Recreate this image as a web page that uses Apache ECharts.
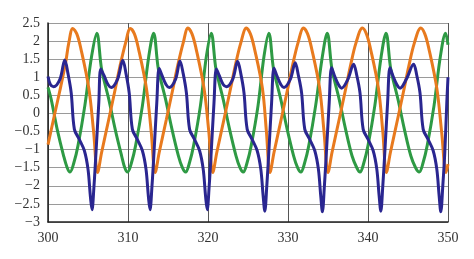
<!DOCTYPE html>
<html><head><meta charset="utf-8">
<script src="https://cdn.jsdelivr.net/npm/echarts@6/dist/echarts.min.js"></script>
<style>html,body{margin:0;padding:0;background:#fff}#c{width:474px;height:259px}</style>
</head><body><div id="c"></div>
<script>
const xTicks = [300, 310, 320, 330, 340, 350];
const yTicks = [-3, -2.5, -2, -1.5, -1, -0.5, 0, 0.5, 1, 1.5, 2, 2.5];

const blueX = [300.0,300.3,300.7,301.5,
302.1,302.5,302.9,303.3,303.9,304.55,305.0,305.3,305.5,305.75,306.0,306.35,306.6,307.0,307.5,307.9,308.7,
309.35,309.75,310.15,310.55,311.15,311.8,312.25,312.55,312.75,313.0,313.25,313.6,313.9,314.25,314.75,315.15,315.95,
316.5,316.9,317.3,317.7,318.3,318.95,319.4,319.7,319.9,320.15,320.4,320.75,321.05,321.4,321.9,322.3,323.1,
323.7,324.1,324.5,324.9,325.5,326.15,326.6,326.9,327.1,327.35,327.6,327.95,328.25,328.6,329.1,329.5,330.3,
330.9,331.3,331.7,332.1,332.7,333.35,333.8,334.1,334.3,334.55,334.8,335.15,335.45,335.8,336.3,336.7,337.5,
338.2,338.6,339.0,339.4,340.0,340.65,341.1,341.4,341.6,341.85,342.1,342.45,342.75,343.1,343.6,344.0,344.8,
345.7,346.1,346.5,346.9,347.5,348.15,348.6,348.9,349.1,349.35,349.6,349.85,350.0];
const blueY = [1.02,0.8,0.74,0.95,
1.48,1.1,0.57,-0.44,-0.71,-1.03,-1.54,-2.3,-2.66,-2.0,-1.08,0.3,1.23,1.05,0.8,0.72,0.95,
1.47,1.1,0.57,-0.44,-0.71,-1.03,-1.54,-2.3,-2.66,-2.0,-1.08,0.3,1.24,1.05,0.8,0.72,0.95,
1.45,1.1,0.57,-0.44,-0.71,-1.03,-1.54,-2.3,-2.66,-2.0,-1.08,0.3,1.23,1.05,0.8,0.74,0.95,
1.44,1.1,0.57,-0.44,-0.71,-1.03,-1.54,-2.3,-2.7,-2.0,-1.08,0.3,1.25,1.05,0.8,0.72,0.95,
1.4,1.05,0.57,-0.44,-0.71,-1.03,-1.54,-2.3,-2.72,-2.0,-1.08,0.3,1.26,1.05,0.8,0.7,0.95,
1.36,1.05,0.57,-0.44,-0.71,-1.03,-1.54,-2.3,-2.7,-2.0,-1.08,0.3,1.26,1.05,0.8,0.7,0.95,
1.36,1.05,0.57,-0.44,-0.71,-1.03,-1.54,-2.3,-2.72,-2.0,-1.08,0.3,1.0];

const orangeX = [300.0,300.8,301.6,302.2,302.6,
303.1,303.6,304.1,305.1,305.7,306.2,306.7,307.6,308.4,309.0,309.7,
310.3,310.8,311.3,312.3,312.9,313.4,313.9,314.8,315.6,316.2,316.9,
317.5,318.0,318.5,319.5,320.1,320.6,321.1,322.0,322.8,323.4,324.1,
324.8,325.3,325.8,326.8,327.3,327.75,328.25,329.15,329.95,330.55,331.25,
331.95,332.45,332.95,333.95,334.5,335.0,335.5,336.4,337.2,337.8,338.5,
339.3,339.8,340.3,341.3,341.85,342.3,342.8,343.7,344.5,345.1,345.8,
346.6,347.1,347.6,348.6,349.2,349.75,350.0];
const orangeY = [-0.86,-0.05,0.75,1.4,1.95,
2.35,2.2,1.8,0.7,-0.5,-1.63,-1.08,-0.16,0.67,1.31,1.95,
2.35,2.2,1.8,0.7,-0.5,-1.63,-1.08,-0.16,0.67,1.31,1.95,
2.36,2.2,1.8,0.7,-0.5,-1.63,-1.08,-0.16,0.67,1.31,1.95,
2.36,2.2,1.8,0.7,-0.5,-1.63,-1.08,-0.16,0.67,1.31,1.95,
2.36,2.2,1.8,0.7,-0.5,-1.63,-1.08,-0.16,0.67,1.31,1.95,
2.36,2.2,1.8,0.7,-0.5,-1.63,-1.08,-0.16,0.67,1.31,1.95,
2.36,2.2,1.8,0.7,-0.5,-1.63,-1.4];

const greenX = [300.0,300.4,301.15,301.95,302.4,
302.75,303.25,303.75,304.6,305.45,306.1,306.7,307.6,308.4,309.2,309.6,
309.95,310.45,310.95,311.8,312.6,313.2,313.8,314.7,315.5,316.3,316.8,
317.2,317.7,318.2,319.05,319.8,320.4,321.0,321.9,322.7,323.5,324.0,
324.4,324.9,325.4,326.25,327.0,327.6,328.2,329.1,329.9,330.7,331.2,
331.6,332.1,332.6,333.45,334.3,334.9,335.5,336.4,337.2,338.0,338.6,
339.0,339.5,340.0,340.85,341.65,342.25,342.85,343.75,344.55,345.35,345.95,
346.4,346.9,347.4,348.25,349.05,349.7,350.0];
const greenY = [0.72,0.39,-0.44,-1.17,-1.5,
-1.62,-1.35,-0.89,0.21,1.58,2.22,1.22,0.39,-0.44,-1.17,-1.5,
-1.62,-1.35,-0.89,0.21,1.58,2.22,1.22,0.39,-0.44,-1.17,-1.5,
-1.62,-1.35,-0.89,0.21,1.58,2.22,1.22,0.39,-0.44,-1.17,-1.5,
-1.62,-1.35,-0.89,0.21,1.58,2.22,1.22,0.39,-0.44,-1.17,-1.5,
-1.62,-1.35,-0.89,0.21,1.58,2.22,1.22,0.39,-0.44,-1.17,-1.5,
-1.62,-1.35,-0.89,0.21,1.58,2.22,1.22,0.39,-0.44,-1.17,-1.5,
-1.62,-1.35,-0.89,0.21,1.58,2.22,1.9];

function pairs(xs, ys) { return xs.map((x, i) => [x, ys[i]]); }

const chart = echarts.init(document.getElementById('c'), null, {renderer: 'canvas'});
const font = '"Liberation Serif", "DejaVu Serif", serif';
function mk(name, xs, ys, color) {
  return {
    name: name, type: 'line', data: pairs(xs, ys), showSymbol: false, smooth: 0.35,
    lineStyle: {color: color, width: 3}, itemStyle: {color: color}, z: 3
  };
}
chart.setOption({
  animation: false,
  grid: {left: 48, right: 26, top: 23, bottom: 37, containLabel: false},
  xAxis: {
    type: 'value', min: xTicks[0], max: xTicks[xTicks.length - 1], interval: 10,
    axisLine: {show: true, onZero: false, lineStyle: {color: '#222', width: 1.5}},
    axisTick: {show: false},
    axisLabel: {color: '#333', fontFamily: font, fontSize: 14, margin: 9},
    splitLine: {show: true, lineStyle: {color: '#555', width: 1}}
  },
  yAxis: {
    type: 'value', min: yTicks[0], max: yTicks[yTicks.length - 1], interval: 0.5,
    axisLine: {show: true, onZero: false, lineStyle: {color: '#222', width: 1.5}},
    axisTick: {show: false},
    axisLabel: {color: '#333', fontFamily: font, fontSize: 14, margin: 8,
      formatter: v => String(Math.round(v * 10) / 10).replace('-', '\u2212')},
    splitLine: {show: true, lineStyle: {color: '#9a9a9a', width: 1}}
  },
  series: [
    mk('green', greenX, greenY, '#2e9a44'),
    mk('orange', orangeX, orangeY, '#e87a1e'),
    mk('blue', blueX, blueY, '#2a2690')
  ]
});
</script></body></html>
